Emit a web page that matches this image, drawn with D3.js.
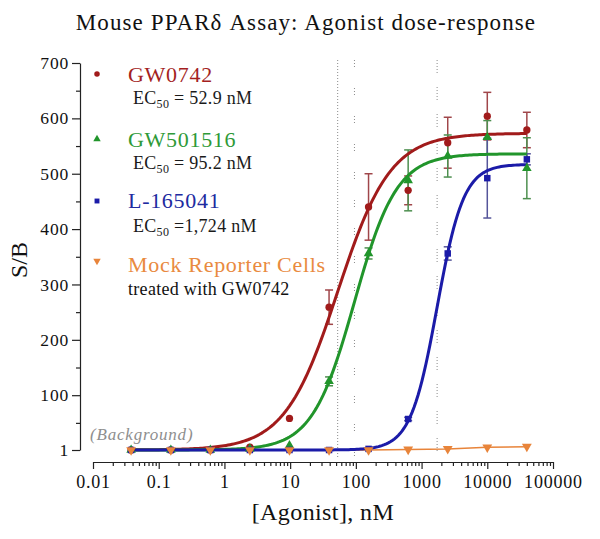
<!DOCTYPE html>
<html>
<head>
<meta charset="utf-8">
<script src="https://cdn.jsdelivr.net/npm/d3@7"></script>
<style>
  body { margin: 0; background: #fff; }
  svg { display: block; }
  text { font-family: "Liberation Serif", "Times New Roman", serif; }
</style>
</head>
<body>
<div id="chart"></div>
<script>
// ---- donnees ----
const conc = [0.038, 0.153, 0.61, 2.44, 9.77, 39.1, 156, 625, 2500, 10000, 40000]; // nM
const gw0742      = [1, 1, 1, 6, 58, 259, 440, 470, 556, 604, 579];
const gw0742Err   = [0, 0, 0, 0, 0, 31, 60, 26, 46, 43, 32];
const gw501516    = [1, 1, 1, 3, 9, 125, 356, 488, 532, 566, 510];
const gw501516Err = [0, 0, 0, 0, 0, 8, 10, 55, 38, 30, 55];
const l165041     = [1, 1, 1, 1, 1, 1, 3, 57, 356, 492, 526];
const l165041Err  = [0, 0, 0, 0, 0, 0, 0, 3, 12, 72, 10];
const mock        = [1, 1, 1, 1, 1, 1, 1, 2, 3, 6, 7];

// parametres du fit (4PL) : bas, haut, EC50, pente
const fitBottom = [1, 1, 1];
const fitTop    = [573, 536, 517];
const fitEC50   = [52.9, 95.2, 1724];
const fitHill   = [1.08, 1.35, 2.15];

const xTicks = [0.01, 0.1, 1, 10, 100, 1000, 10000, 100000];
const yTicks = [1, 100, 200, 300, 400, 500, 600, 700];
const yMinor = [50, 150, 250, 350, 450, 550, 650];

const names  = ["GW0742", "GW501516", "L-165041", "Mock Reporter Cells"];
const ecText = ["52.9 nM", "95.2 nM", "1,724 nM"];

// couleurs
const cols    = ["#a11b1b", "#21952b", "#1b1ba8", "#e8843a"];
const txtCols = ["#a41f1f", "#2f9a38", "#202aa0", "#e98a40"];
const errCols = ["#a0464a", "#4d8f4f", "#55559a"];

const W = 600, H = 539;
const svg = d3.select("#chart").append("svg")
  .attr("width", W).attr("height", H);

// echelles
const x = d3.scaleLog().domain([0.01, 100000]).range([93, 553]);
const y = d3.scaleLinear().domain([1, 700]).range([450, 63]);

// titre
svg.append("text")
  .attr("x", 306).attr("y", 30)
  .attr("text-anchor", "middle")
  .style("font-size", "23px").style("letter-spacing", "1.1px")
  .attr("fill", "#111")
  .text("Mouse PPARδ Assay: Agonist dose-response");

// lignes pointillees EC50
const dashes = ["1,2", "1,2,1,2,1,21", "1,2,1,2,1,2,1,2,1,14"];
fitEC50.forEach((e, i) => {
  svg.append("line")
    .attr("x1", x(e)).attr("x2", x(e))
    .attr("y1", 60).attr("y2", 458)
    .attr("stroke", "#8a8a8a").attr("stroke-width", 1)
    .attr("stroke-dasharray", dashes[i]);
});

// axe X
const xMinor = [];
for (let d = 0.01; d < 100000; d *= 10) {
  for (let k = 2; k <= 9; k++) xMinor.push(d * k);
}
const gx = svg.append("g").attr("transform", "translate(0,462)");
gx.append("g")
  .call(d3.axisBottom(x).tickValues(xMinor).tickSize(4).tickFormat("").tickSizeOuter(0))
  .call(g => g.select(".domain").remove());
gx.append("g")
  .call(d3.axisBottom(x).tickValues(xTicks).tickSize(7).tickPadding(6).tickSizeOuter(0)
    .tickFormat(d => d < 1 ? String(d) : d3.format("d")(d)));
gx.selectAll("text").style("font-size", "18px").style("letter-spacing", "0.8px")
  .attr("fill", "#111").style("font-family", "'Liberation Serif', serif");
gx.selectAll("line,path").attr("stroke", "#222").attr("stroke-width", 1.2);

// axe Y
const gy = svg.append("g").attr("transform", "translate(80,0)");
gy.append("g")
  .call(d3.axisLeft(y).tickValues(yMinor).tickSize(4).tickFormat("").tickSizeOuter(0))
  .call(g => g.select(".domain").remove());
gy.append("g")
  .call(d3.axisLeft(y).tickValues(yTicks).tickSize(8).tickPadding(3).tickSizeOuter(0));
gy.selectAll("text").style("font-size", "17.5px").style("letter-spacing", "0.8px")
  .attr("fill", "#111").style("font-family", "'Liberation Serif', serif");
gy.selectAll("line,path").attr("stroke", "#222").attr("stroke-width", 1.2);

// titres des axes
svg.append("text")
  .attr("x", 323).attr("y", 520).attr("text-anchor", "middle")
  .style("font-size", "24px").style("letter-spacing", "0.4px").attr("fill", "#111")
  .text("[Agonist], nM");
svg.append("text")
  .attr("transform", "translate(27,260) rotate(-90)").attr("text-anchor", "middle")
  .style("font-size", "24px").attr("fill", "#111")
  .text("S/B");

// (Background)
svg.append("text")
  .attr("x", 90).attr("y", 440)
  .style("font-size", "17px").style("font-style", "italic").style("letter-spacing", "0.8px")
  .attr("fill", "#8e8e8e")
  .text("(Background)");

// series
const series = [
  { v: gw0742, e: gw0742Err, sym: d3.symbolCircle, size: 42, rot: 0 },
  { v: gw501516, e: gw501516Err, sym: d3.symbolTriangle, size: 40, rot: 0 },
  { v: l165041, e: l165041Err, sym: d3.symbolSquare, size: 42, rot: 0 },
  { v: mock, e: null, sym: d3.symbolTriangle, size: 42, rot: 180 }
];

// barres d'erreur
series.slice(0, 3).forEach((s, i) => {
  const g = svg.append("g").attr("stroke", errCols[i]).attr("stroke-width", 1.5);
  conc.forEach((c, j) => {
    if (!s.e[j]) return;
    const cx = x(c), y0 = y(s.v[j] - s.e[j]), y1 = y(s.v[j] + s.e[j]);
    g.append("line").attr("x1", cx).attr("x2", cx).attr("y1", y0).attr("y2", y1);
    g.append("line").attr("x1", cx - 4).attr("x2", cx + 4).attr("y1", y0).attr("y2", y0);
    g.append("line").attr("x1", cx - 4).attr("x2", cx + 4).attr("y1", y1).attr("y2", y1);
  });
});

// cellules mock : ligne brisee
svg.append("path")
  .datum(conc.map((c, j) => [c, mock[j]]))
  .attr("fill", "none").attr("stroke", cols[3]).attr("stroke-width", 1.5)
  .attr("d", d3.line().x(d => x(d[0])).y(d => y(d[1])));

// courbes de fit
const xs = d3.range(0, 201).map(k => Math.pow(10, Math.log10(conc[0]) + k * (Math.log10(conc[10]) - Math.log10(conc[0])) / 200));
[0, 1, 2].forEach(i => {
  const f = c => fitBottom[i] + (fitTop[i] - fitBottom[i]) / (1 + Math.pow(fitEC50[i] / c, fitHill[i]));
  svg.append("path")
    .datum(xs)
    .attr("fill", "none").attr("stroke", cols[i]).attr("stroke-width", 3)
    .attr("d", d3.line().x(c => x(c)).y(c => y(f(c))));
});

// marqueurs
series.forEach((s, i) => {
  svg.append("g").selectAll("path")
    .data(conc.map((c, j) => [c, s.v[j]]))
    .join("path")
    .attr("d", d3.symbol().type(s.sym).size(s.size))
    .attr("transform", d => `translate(${x(d[0])},${y(d[1])}) rotate(${s.rot})`)
    .attr("fill", cols[i]);
});

// legende
const legY = [74, 139, 201, 261];
const labY = [82, 147, 208, 272];
series.forEach((s, i) => {
  svg.append("path")
    .attr("d", d3.symbol().type(s.sym).size(24))
    .attr("transform", `translate(97,${legY[i]}) rotate(${s.rot})`)
    .attr("fill", cols[i]);
  svg.append("text")
    .attr("x", 128).attr("y", labY[i])
    .style("font-size", "22px").style("letter-spacing", "0.7px")
    .attr("fill", txtCols[i])
    .text(names[i]);
});
[104, 169, 232].forEach((yy, i) => {
  const t = svg.append("text")
    .attr("x", 133).attr("y", yy)
    .style("font-size", "18px").style("letter-spacing", "0.3px")
    .attr("fill", "#1a1a1a");
  t.append("tspan").text("EC");
  t.append("tspan").attr("dy", 4).style("font-size", "12px").text("50");
  t.append("tspan").attr("dy", -4).text(i === 2 ? " =" + ecText[i] : " = " + ecText[i]);
});
svg.append("text")
  .attr("x", 128).attr("y", 295)
  .style("font-size", "18px").style("letter-spacing", "0.3px")
  .attr("fill", "#111")
  .text("treated with GW0742");
</script>
</body>
</html>
